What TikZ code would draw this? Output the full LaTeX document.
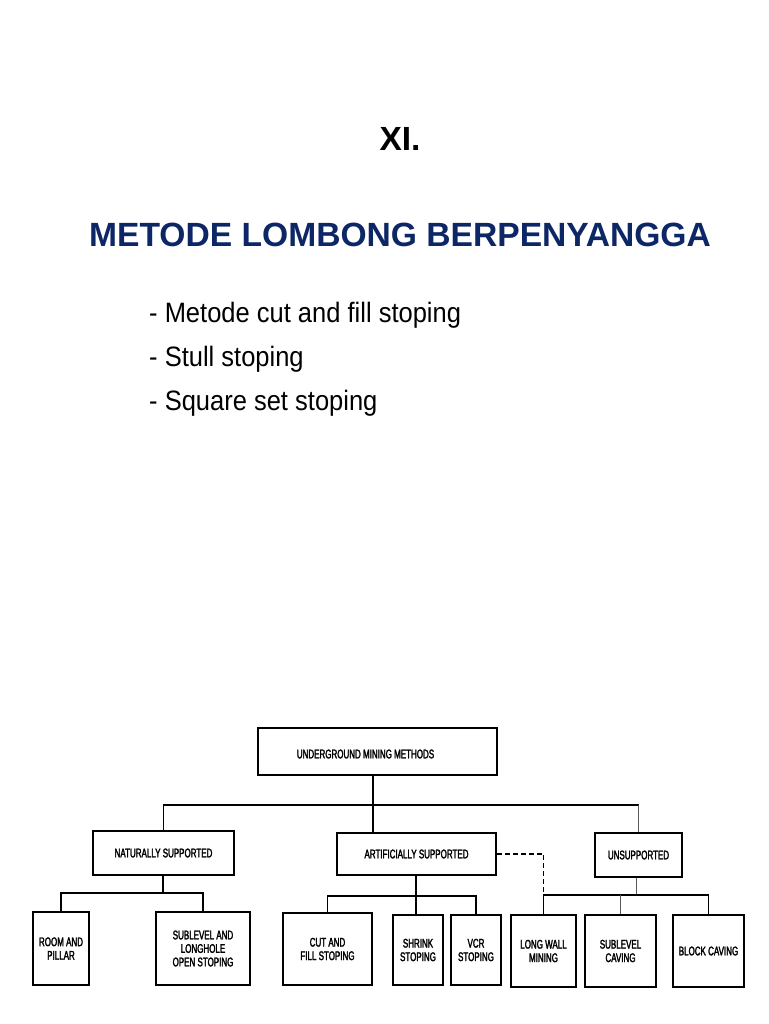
\documentclass[tikz,border=0pt]{standalone}
\usepackage{fontspec}
\setmainfont{Liberation Sans}
\newfontfamily\dfont[FakeStretch=0.64,FakeBold=2]{Liberation Sans}
\definecolor{navy}{HTML}{0D2766}
\newcommand{\tallish}[1]{\scalebox{1}[1.1]{#1}}
\begin{document}
\begin{tikzpicture}[x=1pt,y=-1pt,
  box/.style={draw=black,line width=1.7pt,rectangle,inner sep=0pt,
    font=\dfont\fontsize{12.5}{13.5}\selectfont,align=center},
  conn/.style={draw=black,line width=1.4pt},
  thinconn/.style={draw=black!65,line width=1pt},
  bullet/.style={anchor=base west,inner sep=0pt,font=\fontsize{25.5}{30}\selectfont}]
\useasboundingbox[fill=white] (0,0) rectangle (768,1024);
% headings
\node[anchor=base,inner sep=0pt,font=\bfseries\fontsize{33.5}{40}\selectfont] (xi) at (400,151) {XI.};
\node[anchor=base,inner sep=0pt,text=navy,font=\bfseries\fontsize{33.6}{40}\selectfont] (title) at (400,246) {METODE LOMBONG BERPENYANGGA};
\node[bullet] (b1) at (149,322) {\tallish{- Metode cut and fill stoping}};
\node[bullet] (b2) at (149,366) {\tallish{- Stull stoping}};
\node[bullet] (b3) at (149,410) {\tallish{- Square set stoping}};
% boxes
\node[box,minimum width=239,minimum height=47] (top) at (377.5,751.5) {};
\node[inner sep=0pt,font=\dfont\fontsize{12.5}{13.5}\selectfont] (toptext) at (365.5,754) {UNDERGROUND MINING METHODS};
\node[box,minimum width=141,minimum height=44] (nat) at (163.5,853) {NATURALLY SUPPORTED};
\node[box,minimum width=159,minimum height=42] (art) at (416.5,854) {ARTIFICIALLY SUPPORTED};
\node[box,minimum width=87,minimum height=44] (uns) at (638.5,855) {UNSUPPORTED};
\node[box,minimum width=56,minimum height=73] (room) at (61,948.5) {ROOM AND\\PILLAR};
\node[box,minimum width=94,minimum height=73] (subl) at (203,948.5) {SUBLEVEL AND\\LONGHOLE\\OPEN STOPING};
\node[box,minimum width=89,minimum height=72] (cut) at (327.5,949) {CUT AND\\FILL STOPING};
\node[box,minimum width=50,minimum height=70] (shr) at (418,950) {SHRINK\\STOPING};
\node[box,minimum width=50,minimum height=70] (vcr) at (476,950) {VCR\\STOPING};
\node[box,minimum width=65,minimum height=72] (lw) at (543.5,951) {LONG WALL\\MINING};
\node[box,minimum width=71,minimum height=72] (sc) at (620.5,951) {SUBLEVEL\\CAVING};
\node[box,minimum width=71,minimum height=72] (bc) at (708.5,951) {BLOCK CAVING};
% junctions
\coordinate (j0) at (373,805);
\coordinate (j1) at (163,893);
\coordinate (j2) at (416,896);
\coordinate (j3) at (636,895);
% top level
\draw[conn] (top.south -| j0) -- (j0);
\draw[conn] (nat.north) -- (nat.north |- j0) -- (j0);
\draw[conn] (j0) -- (j0 -| uns.north);
\draw[thinconn] (j0 -| uns.north) -- (uns.north);
\draw[conn] (j0) -- (art.north -| j0);
% naturally supported
\draw[conn] (nat.south -| j1) -- (j1);
\draw[conn] (room.north) -- (room.north |- j1) -- (subl.north |- j1) -- (subl.north);
% artificially supported
\draw[conn] (art.south -| j2) -- (shr.north -| j2);
\draw[conn] (cut.north) -- (cut.north |- j2) -- (vcr.north |- j2) -- (vcr.north);
% unsupported
\draw[thinconn] (uns.south -| j3) -- (j3);
\draw[conn] (lw.north) -- (lw.north |- j3) -- (bc.north |- j3) -- (bc.north);
\draw[thinconn] (sc.north |- j3) -- (sc.north);
% dashed link
\draw[conn,line width=1.1pt,dash pattern=on 5pt off 3pt] (art.east) -| (lw.north |- j3);
\end{tikzpicture}
\end{document}
